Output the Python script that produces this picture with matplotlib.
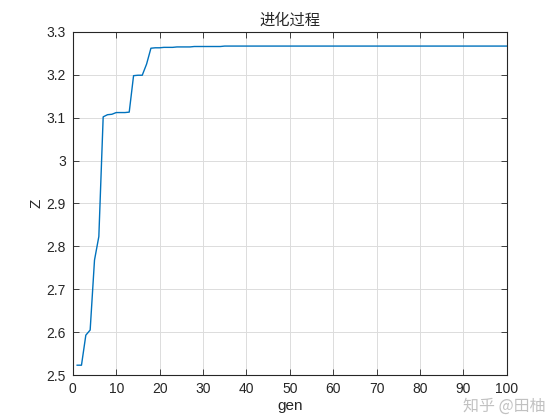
import matplotlib
matplotlib.use("Agg")
import matplotlib.pyplot as plt

plt.rcParams['font.family'] = ['Liberation Sans', 'Noto Sans CJK SC', 'DejaVu Sans']

gen = list(range(1, 101))
Z = [2.523, 2.523, 2.593, 2.605, 2.768, 2.823, 3.102, 3.107, 3.108, 3.112,
     3.112, 3.112, 3.113, 3.198, 3.199, 3.199, 3.225, 3.262, 3.263, 3.263,
     3.264, 3.264, 3.264, 3.265, 3.265, 3.265, 3.265, 3.266, 3.266, 3.266,
     3.266, 3.266, 3.266, 3.266, 3.267, 3.267, 3.267, 3.267, 3.267, 3.267,
     3.267, 3.267, 3.267, 3.267, 3.267, 3.267, 3.267, 3.267, 3.267, 3.267,
     3.267, 3.267, 3.267, 3.267, 3.267, 3.267, 3.267, 3.267, 3.267, 3.267,
     3.267, 3.267, 3.267, 3.267, 3.267, 3.267, 3.267, 3.267, 3.267, 3.267,
     3.267, 3.267, 3.267, 3.267, 3.267, 3.267, 3.267, 3.267, 3.267, 3.267,
     3.267, 3.267, 3.267, 3.267, 3.267, 3.267, 3.267, 3.267, 3.267, 3.267,
     3.267, 3.267, 3.267, 3.267, 3.267, 3.267, 3.267, 3.267, 3.267, 3.267]
xticks = [0, 10, 20, 30, 40, 50, 60, 70, 80, 90, 100]
yticks = [2.5, 2.6, 2.7, 2.8, 2.9, 3.0, 3.1, 3.2, 3.3]
yticklabels = ['2.5', '2.6', '2.7', '2.8', '2.9', '3', '3.1', '3.2', '3.3']
title = '进化过程'
xlabel = 'gen'
ylabel = 'Z'
watermark = '知乎 @田柚'

fig = plt.figure(figsize=(5.6, 4.2), dpi=100)
ax = fig.add_axes([0.130, 0.107, 0.775, 0.817])
ax.plot(gen, Z, color='#0072BD', linewidth=1.0)
ax.set_xlim(0, 100)
ax.set_ylim(2.5, 3.3)
ax.set_xticks(xticks)
ax.set_yticks(yticks)
ax.set_yticklabels(yticklabels)
ax.grid(True, color='#dcdcdc', linewidth=0.7)
ax.set_axisbelow(True)
ax.tick_params(direction='in', length=4, width=0.6, labelsize=10, colors='#262626',
               top=True, right=True, pad=5)
for s in ax.spines.values():
    s.set_color('#262626')
    s.set_linewidth(0.8)
ax.set_title(title, fontsize=11, family=['Noto Sans CJK SC', 'DejaVu Sans'], pad=5, color='#262626')
ax.set_xlabel(xlabel, fontsize=11, color='#262626', labelpad=2)
ax.set_ylabel(ylabel, fontsize=11, color='#262626', labelpad=2)
fig.text(0.975, 0.032, watermark, ha='right', va='center', fontsize=11.5,
         family=['Noto Sans CJK SC', 'DejaVu Sans'], color='#bbbbbb', alpha=0.9)
fig.savefig('out.png', dpi=100, facecolor='white')
